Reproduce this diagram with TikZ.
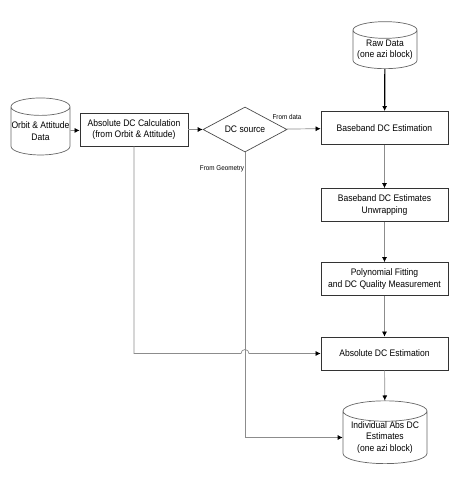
\documentclass[tikz,border=0pt]{standalone}
\usepackage{fontspec}
\setmainfont{Liberation Sans}[FakeStretch=0.9]
\usepackage{tikz}
\usetikzlibrary{calc}
\usetikzlibrary{arrows.meta}
\usetikzlibrary{shapes.geometric}
\usetikzlibrary{positioning}

\begin{document}
\begin{tikzpicture}[x=1pt,y=-1pt]
  % some styles
  \tikzset{
    box/.style={
      rectangle,
      minimum width=127pt,
      minimum height=33pt,
      inner sep=0pt,
      align=center,
      draw=black!80,
      line width=0.8pt,
      font=\fontsize{9.5}{11.5}\selectfont
    }
  }
  \tikzset{store/.style={cylinder,shape border rotate=90,aspect=0.3,draw=black!60,line width=0.7pt,inner sep=0pt,align=center,font=\fontsize{9.5}{11.5}\selectfont}}
  \tikzset{choice/.style={diamond,aspect=1.87,minimum width=84pt,minimum height=45pt,inner sep=0pt,draw=black!70,line width=0.7pt,font=\fontsize{9.5}{11.5}\selectfont}}
  \tikzset{conn/.style={draw=black!45,line width=0.7pt,-{Latex[black,length=5pt,width=5pt]}}}
  \tikzset{lbl/.style={inner sep=0pt,font=\fontsize{7}{8}\selectfont}}

\useasboundingbox (0,0) rectangle (474,484);

\node[store,minimum width=59pt,minimum height=57pt] (orbit) at (40.5,131) {Orbit \& Attitude\\Data};
\node[box,minimum width=108pt] (calc) at (134,129.5) {Absolute DC Calculation\\(from Orbit \& Attitude)};
\node[choice] (dcsrc) at (245,129.5) {DC source};
\node[store,minimum width=64pt,minimum height=47pt] (raw) at (385,49.5) {Raw Data\\(one azi block)};
\node[box] (bbest) at (384.5,128) {Baseband DC Estimation};
\node[box] (unwrap) at (384.5,205) {Baseband DC Estimates\\Unwrapping};
\node[box] (poly) at (384.5,279) {Polynomial Fitting\\and DC Quality Measurement};
\node[box] (absest) at (384.5,353.5) {Absolute DC Estimation};
\node[store,minimum width=84pt,minimum height=51pt] (indiv) at (385,437.5) {Individual Abs DC\\Estimates\\(one azi block)};

\node[lbl] (fromdata) at (287,117) {From data};
\node[lbl] (fromgeo) at (222,169) {From Geometry};

% connectors
\draw[conn] (orbit) -- (calc);
\draw[conn] (calc) -- (dcsrc);
\draw[conn] (dcsrc) -- (bbest);
\draw[conn,draw=black,line width=1.2pt] (raw) -- (bbest);
\draw[conn] (bbest) -- (unwrap);
\draw[conn] (unwrap) -- (poly);
\draw[conn] (poly) -- (absest);
\draw[conn] (absest) -- (indiv);
\draw[conn] (calc.south) |- ($(dcsrc.south |- absest.west)+(-4,0)$)
  arc[start angle=180,end angle=360,radius=4] -- (absest.west);
\draw[conn] (dcsrc.south) |- (indiv.west);

\end{tikzpicture}
\end{document}
